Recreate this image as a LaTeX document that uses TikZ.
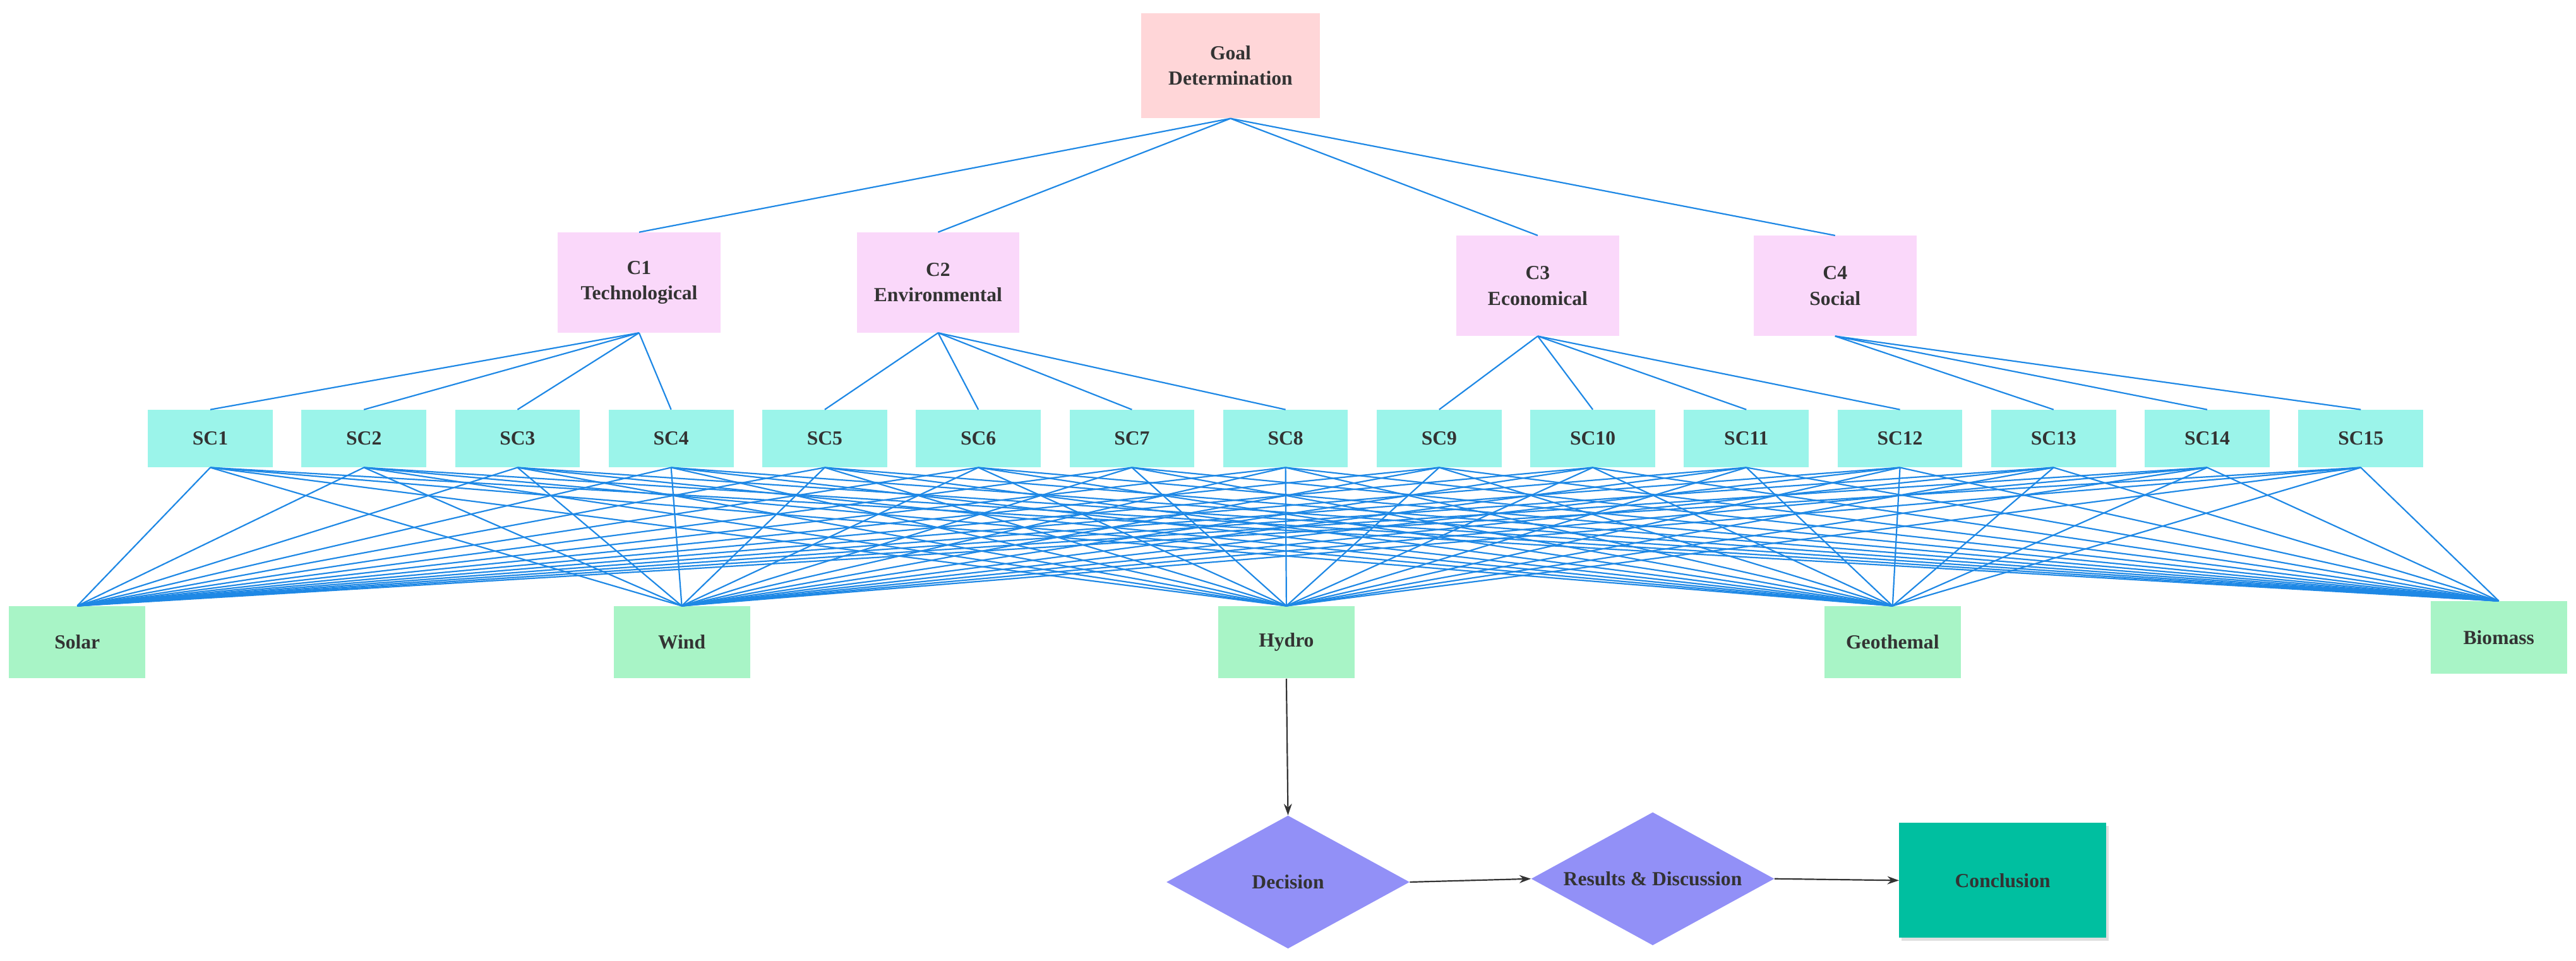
\documentclass[tikz,border=0pt]{standalone}
\usepackage{fontspec}
\setmainfont{Liberation Serif}
\usetikzlibrary{shapes.geometric,arrows.meta,shadows}
\definecolor{goalpink}{HTML}{FFD6D8}
\definecolor{critpink}{HTML}{FAD8FA}
\definecolor{subcyan}{HTML}{9BF4EA}
\definecolor{altgreen}{HTML}{A8F4C6}
\definecolor{decpurple}{HTML}{9290F7}
\definecolor{conteal}{HTML}{00BFA0}
\definecolor{linkblue}{HTML}{1E88E5}
\definecolor{txt}{HTML}{333333}
\tikzset{
  box/.style={rectangle, draw=none, align=center, text=txt, font=\LARGE\bfseries, inner sep=0pt},
  goal/.style={box, fill=goalpink, minimum width=5.45cm, minimum height=3.2cm},
  crit/.style={box, fill=critpink, minimum width=4.95cm, minimum height=3.05cm},
  sub/.style={box, fill=subcyan, minimum width=3.8cm, minimum height=1.75cm},
  alt/.style={box, fill=altgreen, minimum width=4.15cm, minimum height=2.2cm},
  dec/.style={diamond, aspect=1.8, inner sep=0pt, fill=decpurple, text=txt, font=\LARGE\bfseries, minimum width=7.4cm, minimum height=4.05cm},
  link/.style={draw=linkblue, line width=1.2pt},
  flow/.style={draw=black!80, line width=1.2pt, -{Stealth[length=10pt,width=7pt]}}
}
\begin{document}
\begin{tikzpicture}[x=0.05cm, y=-0.05cm]
  \useasboundingbox (0,0) rectangle (1568,585);
  % hierarchy
  \node[goal] (goal) at (749,40) {Goal\\Determination};
  \node[crit] (c1) at (389,172) {C1\\Technological};
  \node[crit] (c2) at (571,172) {C2\\Environmental};
  \node[crit] (c3) at (936,174) {C3\\Economical};
  \node[crit] (c4) at (1117,174) {C4\\Social};
  \foreach \i in {1,...,15}
    \node[sub] (sc\i) at ({128+(\i-1)*93.5},267) {SC\i};
  \node[alt] (solar) at (47,391) {Solar};
  \node[alt] (wind) at (415,391) {Wind};
  \node[alt] (hydro) at (783,391) {Hydro};
  \node[alt] (geo) at (1152,391) {Geothemal};
  \node[alt] (bio) at (1521,388) {Biomass};
  % decision chain
  \node[dec] (decision) at (784,537) {Decision};
  \node[dec] (results) at (1006,535) {Results \& Discussion};
  \node[box, fill=conteal, minimum width=6.3cm, minimum height=3.5cm, drop shadow={opacity=0.25}] (concl) at (1219,536) {Conclusion};
  % links
  \foreach \c in {c1,c2,c3,c4}
    \draw[link] (goal.south) -- (\c.north);
  \foreach \i in {1,...,4} \draw[link] (c1.south) -- (sc\i.north);
  \foreach \i in {5,...,8} \draw[link] (c2.south) -- (sc\i.north);
  \foreach \i in {9,...,12} \draw[link] (c3.south) -- (sc\i.north);
  \foreach \i in {13,...,15} \draw[link] (c4.south) -- (sc\i.north);
  \foreach \i in {1,...,15}
    \foreach \a in {solar,wind,hydro,geo,bio}
      \draw[link] (sc\i.south) -- (\a.north);
  \draw[flow] (hydro.south) -- (decision.north);
  \draw[flow] (decision.east) -- (results.west);
  \draw[flow] (results.east) -- (concl.west);
\end{tikzpicture}
\end{document}
